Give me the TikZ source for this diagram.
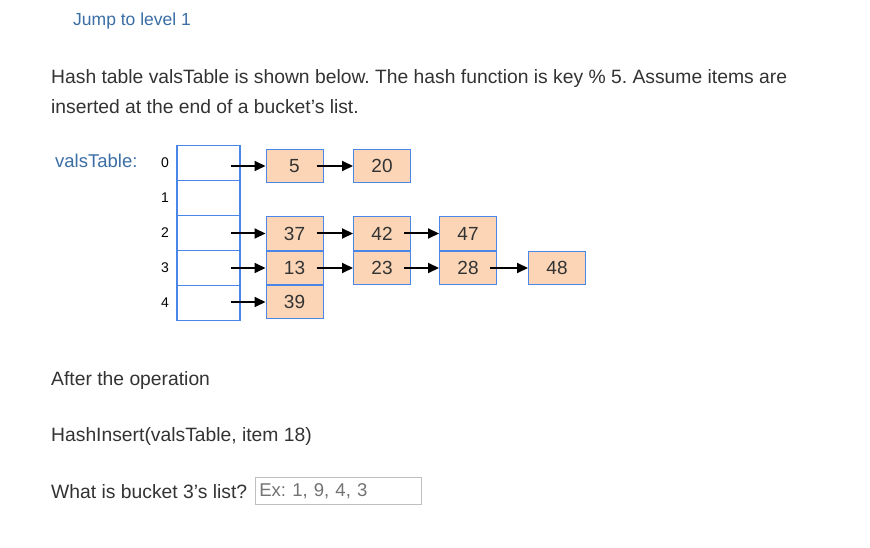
\documentclass[tikz,border=0pt]{standalone}
\usepackage{fontspec}
\setmainfont{Liberation Sans}
\usetikzlibrary{arrows.meta}
\definecolor{txt}{HTML}{333333}
\definecolor{lnk}{HTML}{3B6EA5}
\definecolor{bx}{HTML}{4A86E8}
\definecolor{fillc}{HTML}{FBD5B6}
\newcommand{\apos}{\char"0027\relax}
\begin{document}
\frenchspacing
\begin{tikzpicture}[x=1pt,y=-1pt,
  cell/.style={draw=bx,line width=1.2pt,minimum width=63pt,minimum height=35pt,inner sep=0pt},
  item/.style={draw=bx,fill=fillc,line width=1pt,minimum width=57pt,minimum height=33pt,inner sep=0pt,font=\fontsize{19}{22}\selectfont,text=txt},
  idx/.style={font=\fontsize{14}{16}\selectfont,text=black},
  ptr/.style={-{Triangle[length=11pt,width=10pt]},line width=2pt,black},
  body/.style={font=\fontsize{19.3}{28}\selectfont,text=txt,anchor=west,inner sep=0pt}]
\useasboundingbox (0,0) rectangle (870,548);
\fill[white] (0,0) rectangle (870,548);
\node[anchor=west,inner sep=0pt,text=lnk,font=\fontsize{17.5}{20}\selectfont] (jump) at (73,21) {Jump to level 1};
\node[body] (l1) at (51,79) {Hash table valsTable is shown below. The hash function is key \% 5. Assume items are};
\node[body] (l2) at (51,107) {inserted at the end of a bucket\apos s list.};
\node[anchor=west,inner sep=0pt,text=lnk,font=\fontsize{18.5}{20}\selectfont] (vt) at (55,161) {valsTable:};
\foreach \i/\y in {0/163,1/198,2/233,3/268,4/303}{
  \node[cell] (c\i) at (208.5,\y) {};
  \node[idx] (n\i) at (165,\y) {\i};
}
\node[item] (a5) at (294.5,166) {5};
\node[item] (a20) at (382,166) {20};
\node[item] (a37) at (294.5,233.5) {37};
\node[item] (a42) at (382,233.5) {42};
\node[item] (a47) at (468,233.5) {47};
\node[item] (a13) at (294.5,268) {13};
\node[item] (a23) at (382,268) {23};
\node[item] (a28) at (468,268) {28};
\node[item] (a48) at (557,268) {48};
\node[item] (a39) at (294.5,302) {39};
\foreach \c/\a in {c0/a5,c2/a37,c3/a13,c4/a39}{
  \coordinate (p\c) at ([xshift=-10pt]\c.east |- \a.west);
  \draw[ptr] (p\c) -- (\a.west);
}
\foreach \a/\b in {a5/a20,a37/a42,a42/a47,a13/a23,a23/a28,a28/a48}{
  \draw[ptr] ([xshift=-7pt]\a.east) -- (\b.west);
}
\node[body] (l3) at (51,381) {After the operation};
\node[body] (l4) at (51,437) {HashInsert(valsTable, item 18)};
\node[body] (l5) at (51,492) {What is bucket 3\apos s list?};
\node[draw=black!25,line width=0.8pt,minimum width=166pt,minimum height=27pt,inner sep=4pt,anchor=west,text=black!55,font=\fontsize{18.5}{20}\selectfont,text width=158pt,align=left] (inp) at (255,491) {Ex: 1, 9, 4, 3};
\end{tikzpicture}
\end{document}
